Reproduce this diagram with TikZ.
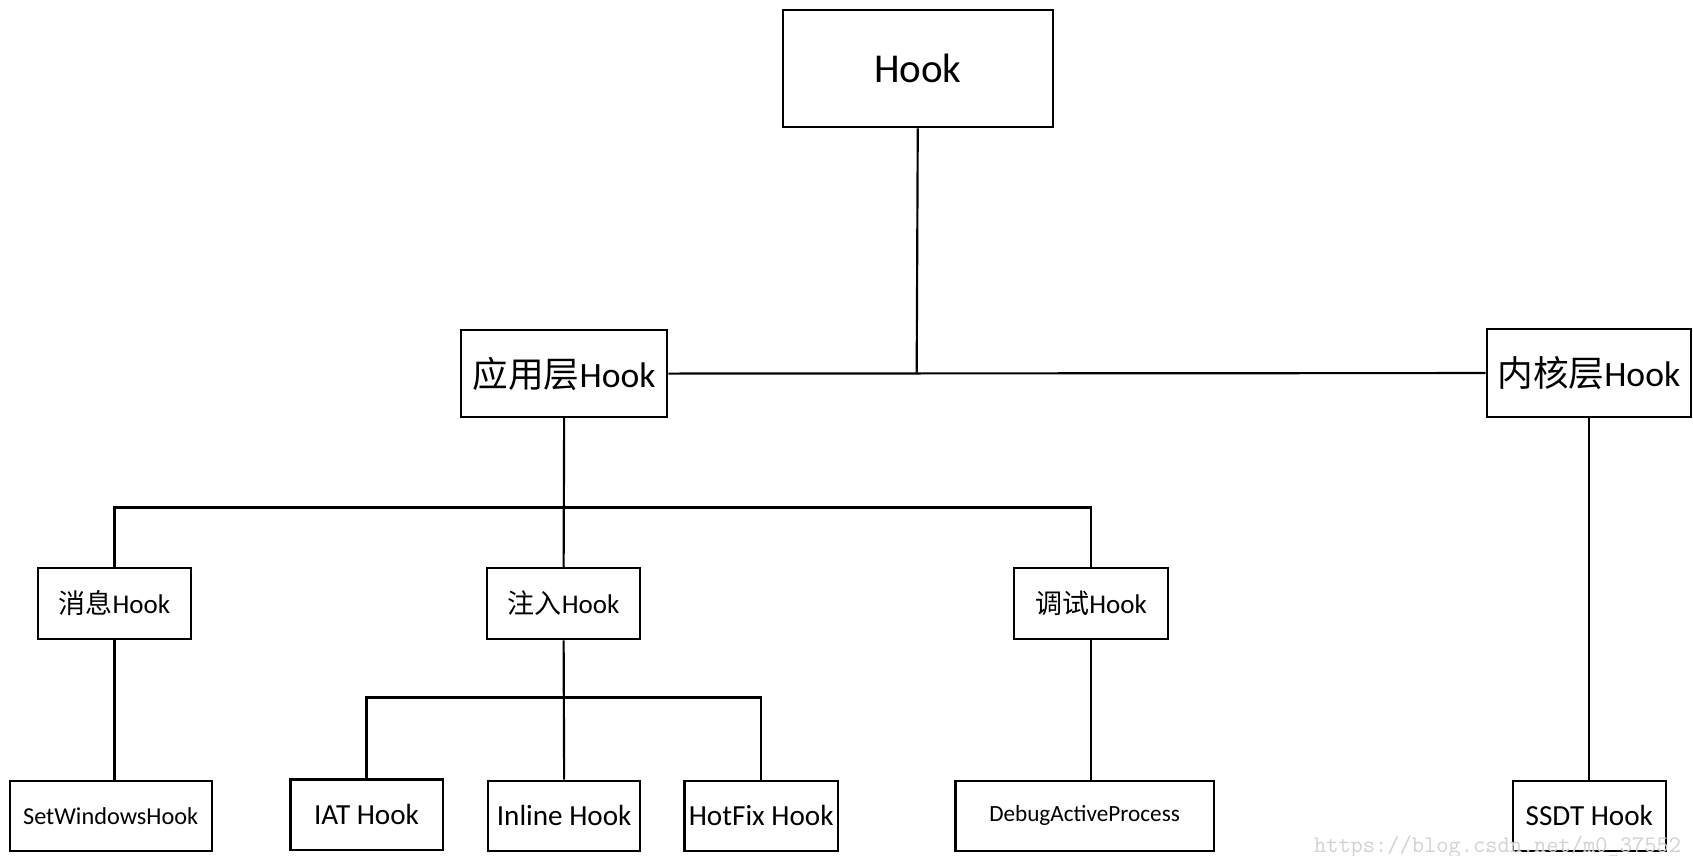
\documentclass[tikz,border=0pt]{standalone}
\usepackage{fontspec}
\setmainfont{Carlito}
\newfontfamily\cjk{Noto Sans CJK SC}
\begin{document}
\begin{tikzpicture}[x=1pt,y=-1pt,line width=2pt]
\useasboundingbox (0,0) rectangle (1568,792);
\newcommand\bnode[6]{\node[draw,inner sep=0pt,minimum width=#4-#2,minimum height=#5-#3] (#1) at ({(#2+#4)/2},{(#3+#5)/2}) {#6};}
\bnode{hook}{725}{9}{975}{118}{\fontsize{38}{42}\selectfont Hook}
\bnode{app}{427}{306}{618}{386}{\fontsize{33}{38}\selectfont{\cjk 应用层}Hook}
\bnode{ker}{1377}{305}{1566}{386}{\fontsize{33}{38}\selectfont{\cjk 内核层}Hook}
\bnode{msg}{35}{526}{177}{592}{\fontsize{25}{28}\selectfont{\cjk 消息}Hook}
\bnode{inj}{451}{526}{593}{592}{\fontsize{25}{28}\selectfont{\cjk 注入}Hook}
\bnode{dbg}{939}{526}{1082}{592}{\fontsize{25}{28}\selectfont{\cjk 调试}Hook}
\bnode{swh}{9}{723}{196}{788}{\fontsize{22.5}{26}\selectfont SetWindowsHook}
\bnode{iat}{269}{722}{410}{787}{\fontsize{27}{30}\selectfont IAT Hook}
\bnode{inl}{452}{723}{593}{788}{\fontsize{27}{30}\selectfont Inline Hook}
\bnode{hot}{634}{723}{776}{788}{\fontsize{27}{30}\selectfont HotFix Hook}
\bnode{dap}{885}{723}{1124}{788}{\fontsize{21.5}{25}\selectfont DebugActiveProcess}
\bnode{ssdt}{1401}{723}{1543}{788}{\fontsize{27}{30}\selectfont SSDT Hook}
\coordinate (j1) at (849,345);
\draw (hook.south) -- (j1);
\draw (app.east) -- (ker.west);
\coordinate (b1) at (521,470);
\draw (app.south) -- (inj.north);
\draw (msg.north) |- (b1) -| (dbg.north);
\draw (msg.south) -- (msg.south|-swh.north);
\draw (dbg.south) -- (dbg.south|-dap.north);
\draw (ker.south) -- (ker.south|-ssdt.north);
\coordinate (b2) at (522,646);
\draw (inj.south) -- (inl.north);
\draw (iat.north) |- (b2) -| (hot.north);
\node[anchor=base west,text=black!18,font=\ttfamily\fontsize{22}{24}\selectfont,inner sep=0pt] (wm) at (1216,790) {https://blog.csdn.net/m0\_37552};
\end{tikzpicture}
\end{document}
